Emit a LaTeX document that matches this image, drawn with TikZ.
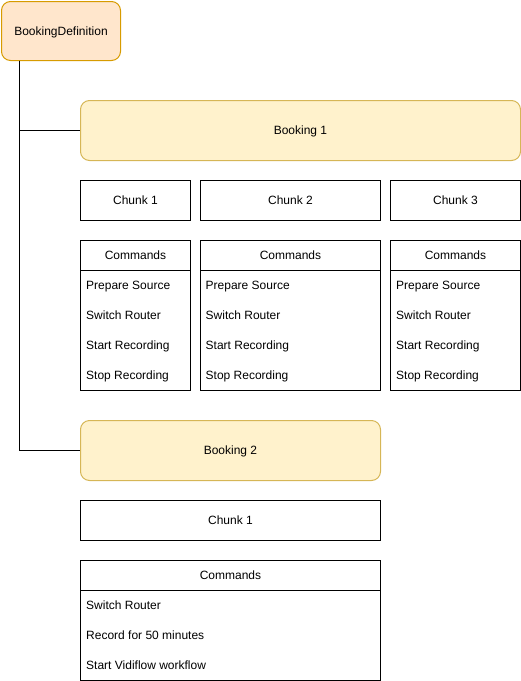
\documentclass[tikz,border=0pt]{standalone}
\usepackage{fontspec}
\setmainfont{Liberation Sans}
\definecolor{defFill}{HTML}{FFE6CC}
\definecolor{defLine}{HTML}{D79B00}
\definecolor{bkFill}{HTML}{FFF2CC}
\definecolor{bkLine}{HTML}{D6B656}
\begin{document}
\begin{tikzpicture}[x=1pt,y=-1pt,
  every node/.style={font=\fontsize{12}{14}\selectfont, text=black},
  defbox/.style={draw=defLine, fill=defFill, rounded corners=9pt, line width=1pt, anchor=north west, inner sep=0pt, text height=11pt, text depth=2.5pt},
  bkbox/.style={draw=bkLine, fill=bkFill, rounded corners=9pt, line width=1pt, anchor=north west, inner sep=0pt, text height=11pt, text depth=2.5pt},
  plainbox/.style={draw=black, fill=white, line width=1pt, anchor=north west, inner sep=0pt, text height=11pt, text depth=2.5pt},
  item/.style={anchor=west, inner sep=0pt, text height=11pt, text depth=2.5pt},
  link/.style={draw=black, line width=1pt}
]
\useasboundingbox (0,0) rectangle (521,681);

% root
\node[defbox, minimum width=119pt, minimum height=59pt] (bd) at (1,1) {BookingDefinition};
\coordinate (trunk) at (19,60.5);

% Booking 1
\node[bkbox, minimum width=440pt, minimum height=60pt] (b1) at (80,100) {Booking 1};
\node[plainbox, minimum width=110pt, minimum height=40pt] (c11) at (80,180) {Chunk 1};
\node[plainbox, minimum width=180pt, minimum height=40pt] (c12) at (200,180) {Chunk 2};
\node[plainbox, minimum width=130pt, minimum height=40pt] (c13) at (390,180) {Chunk 3};

% Command lists of Booking 1
\node[plainbox, minimum width=110pt, minimum height=150pt] (l11) at (80,240) {};
\node[plainbox, minimum width=110pt, minimum height=30pt] (h11) at (80,240) {Commands};
\node[item] (i111) at (86,285) {Prepare Source};
\node[item] (i112) at (86,315) {Switch Router};
\node[item] (i113) at (86,345) {Start Recording};
\node[item] (i114) at (86,375) {Stop Recording};

\node[plainbox, minimum width=180pt, minimum height=150pt] (l12) at (200,240) {};
\node[plainbox, minimum width=180pt, minimum height=30pt] (h12) at (200,240) {Commands};
\node[item] (i121) at (205.5,285) {Prepare Source};
\node[item] (i122) at (205.5,315) {Switch Router};
\node[item] (i123) at (205.5,345) {Start Recording};
\node[item] (i124) at (205.5,375) {Stop Recording};

\node[plainbox, minimum width=130pt, minimum height=150pt] (l13) at (390,240) {};
\node[plainbox, minimum width=130pt, minimum height=30pt] (h13) at (390,240) {Commands};
\node[item] (i131) at (396,285) {Prepare Source};
\node[item] (i132) at (396,315) {Switch Router};
\node[item] (i133) at (396,345) {Start Recording};
\node[item] (i134) at (396,375) {Stop Recording};

% Booking 2
\node[bkbox, minimum width=300pt, minimum height=60pt] (b2) at (80,420) {Booking 2};
\node[plainbox, minimum width=300pt, minimum height=40pt] (c21) at (80,500) {Chunk 1};
\node[plainbox, minimum width=300pt, minimum height=120pt] (l21) at (80,560) {};
\node[plainbox, minimum width=300pt, minimum height=30pt] (h21) at (80,560) {Commands};
\node[item] (i211) at (86,605) {Switch Router};
\node[item] (i212) at (86,635) {Record for 50 minutes};
\node[item] (i213) at (86,665) {Start Vidiflow workflow};

% tree connectors
\draw[link] (trunk) |- (b1.west);
\draw[link] (trunk) |- (b2.west);
\end{tikzpicture}
\end{document}
